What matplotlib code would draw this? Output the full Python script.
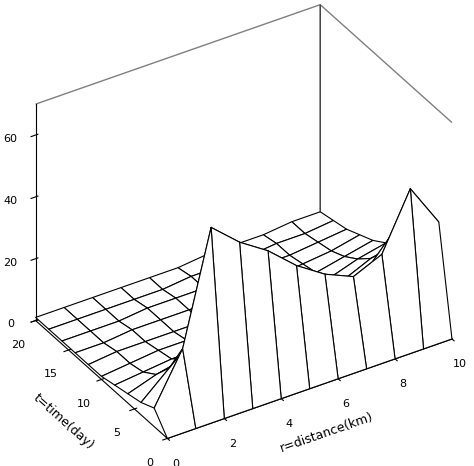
import numpy as np
import matplotlib
matplotlib.use("Agg")
import matplotlib.pyplot as plt

r_vals = [0, 1, 2, 3, 4, 5, 6, 7, 8, 9, 10]
t_vals = [0, 2, 4, 6, 8, 10, 12, 14, 16, 18, 20]
D_rows = [
    [0, 0, 0, 0, 0, 0, 0, 0, 0, 0, 0],
    [6, 22, 58, 50, 44, 36, 30, 26, 30, 48, 34],
    [4, 12, 20, 18, 14, 12, 12, 16, 22, 32, 30],
    [3, 6, 8, 8, 7, 6, 7, 9, 14, 20, 22],
    [2, 3, 4, 4, 4, 4, 5, 6, 10, 14, 16],
    [1, 2, 3, 3, 3, 3, 4, 5, 7, 10, 12],
    [1, 2, 2, 2, 2, 3, 3, 4, 5, 7, 9],
    [1, 1, 2, 2, 2, 2, 3, 3, 4, 5, 7],
    [1, 1, 1, 2, 2, 2, 2, 3, 3, 4, 5],
    [1, 1, 1, 1, 1, 2, 2, 2, 3, 3, 4],
    [1, 1, 1, 1, 1, 1, 2, 2, 2, 3, 3],
]

R, T = np.meshgrid(r_vals, t_vals)
Z = np.array(D_rows, dtype=float)

fig = plt.figure(figsize=(4.74, 4.66), dpi=100)
ax = fig.add_axes([-0.04, -0.03, 1.08, 1.08], projection='3d', computed_zorder=False)
ax.set_proj_type('ortho')
kw = dict(color='white', edgecolor='black', linewidth=0.8, shade=False,
          rstride=1, cstride=1, antialiased=True)
ax.plot_surface(R[1:], T[1:], Z[1:], zorder=1, **kw)
ax.plot_surface(R[:2], T[:2], Z[:2], zorder=2, **kw)
ax.set_xlim(0, 10); ax.set_ylim(0, 20); ax.set_zlim(0, 70)
ax.view_init(elev=34, azim=-122)
ax.set_box_aspect((1.35, 1, 1.05), zoom=0.95)
for a in (ax.xaxis, ax.yaxis, ax.zaxis):
    a.pane.fill = False
    a.pane.set_edgecolor('black')
ax.grid(False)
ax.set_xticks([0, 2, 4, 6, 8, 10])
ax.set_yticks([0, 5, 10, 15, 20])
ax.set_zticks([0, 20, 40, 60])
ax.tick_params(labelsize=8)
ax.set_xlabel('r=distance(km)', fontsize=9)
ax.set_ylabel('t=time(day)', fontsize=9)
ax.set_zlabel('D(r,t)', fontsize=9)
fig.savefig('out.png', dpi=100)
